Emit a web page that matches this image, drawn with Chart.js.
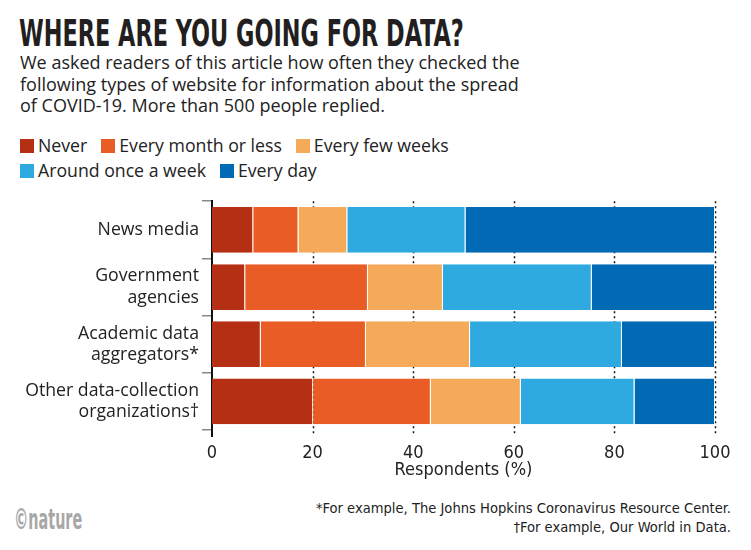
<!DOCTYPE html>
<html>
<head>
<meta charset="utf-8">
<script src="https://cdn.jsdelivr.net/npm/chart.js@4/dist/chart.umd.min.js"></script>
<style>
  body { margin: 0; width: 751px; height: 550px; background: #fff; position: relative; overflow: hidden; font-family: "Open Sans", sans-serif; color: #222; }
  #title { position: absolute; left: 19px; top: 11px; font-family: "DejaVu Sans Condensed", sans-serif; font-weight: bold; font-size: 38px; color: #231f20; transform: scaleX(0.655); transform-origin: left top; white-space: nowrap; }
  #sub { position: absolute; left: 20px; top: 52px; font-size: 18px; line-height: 21.5px; }
  #legend { position: absolute; left: 20px; top: 133px; font-size: 17.7px; line-height: 25px; width: 540px; }
  .item { display: inline-block; margin-right: 14px; }
  .sw { display: inline-block; width: 14px; height: 14px; margin-right: 4px; vertical-align: -1px; }
  #wrap { position: absolute; left: 0; top: 177px; width: 751px; height: 304px; }
  #notes { position: absolute; right: 20px; top: 498px; text-align: right; font-family: "DejaVu Sans Condensed", sans-serif; font-size: 14.6px; line-height: 19px; }
  #logo { position: absolute; left: 14px; top: 503px; font-family: "DejaVu Sans Condensed", sans-serif; font-weight: bold; font-size: 28px; color: #a7a7a7; transform: scaleX(0.57); transform-origin: left top; }
</style>
</head>
<body>
<div id="title">WHERE ARE YOU GOING FOR DATA?</div>
<div id="sub">We asked readers of this article how often they checked the<br>following types of website for information about the spread<br>of COVID-19. More than 500 people replied.</div>
<div id="legend"></div>
<div id="wrap"><canvas id="chart"></canvas></div>
<div id="notes">*For example, The Johns Hopkins Coronavirus Resource Center.<br>†For example, Our World in Data.</div>
<div id="logo">©nature</div>
<script>
const categories = [
  ["News media"],
  ["Government", "agencies"],
  ["Academic data", "aggregators*"],
  ["Other data-collection", "organizations†"]
]
const seriesNames = ["Never", "Every month or less", "Every few weeks", "Around once a week", "Every day"]
const seriesColors = ["#b52f15", "#e95c25", "#f5aa5a", "#2eaae1", "#006bb4"]
const never = [8.2, 6.6, 9.7, 20.1]
const monthly = [9.0, 24.4, 20.9, 23.4]
const fewWeeks = [9.7, 14.9, 20.7, 17.9]
const weekly = [23.5, 29.6, 30.2, 22.6]
const daily = [49.6, 24.5, 18.5, 16.0]
const xTicks = [0, 20, 40, 60, 80, 100]

const values = [never, monthly, fewWeeks, weekly, daily]

// legend in two rows, like the original
let leg = document.getElementById("legend")
seriesNames.forEach((name, i) => {
  if (i == 3) leg.appendChild(document.createElement("br"))
  let span = document.createElement("span")
  span.className = "item"
  span.innerHTML = '<span class="sw" style="background:' + seriesColors[i] + '"></span>' + name
  leg.appendChild(span)
})

const condensed = '"DejaVu Sans Condensed", sans-serif'

new Chart(document.getElementById("chart"), {
  type: 'bar',
  data: {
    labels: categories,
    datasets: seriesNames.map((name, i) => ({
      label: name,
      data: values[i],
      backgroundColor: seriesColors[i],
      borderColor: 'rgba(255,255,255,0.7)',
      borderWidth: { left: 0, right: 1, top: 0, bottom: 0 },
      borderSkipped: false,
      barPercentage: 0.8,
      categoryPercentage: 1
    }))
  },
  options: {
    indexAxis: 'y',
    responsive: true,
    maintainAspectRatio: false,
    animation: false,
    layout: { padding: { top: 10, right: 36, bottom: 0, left: 0 } },
    plugins: { legend: { display: false }, tooltip: { enabled: false } },
    scales: {
      x: {
        stacked: true,
        min: 0,
        max: 100,
        afterBuildTicks: s => { s.ticks = xTicks.map(v => ({ value: v })) },
        afterFit: s => { s.height = 51 },
        border: { display: false },
        grid: { display: false },
        ticks: { color: '#222', font: { family: condensed, size: 18 }, padding: 5, maxRotation: 0 },
        title: { display: true, text: 'Respondents (%)', color: '#222', font: { family: condensed, size: 18 }, padding: 0 }
      },
      y: {
        stacked: true,
        afterFit: s => { s.width = 212 },
        border: { display: true, color: '#111', width: 2 },
        grid: { drawOnChartArea: false, color: '#888', tickLength: 10, lineWidth: 1.5 },
        ticks: { color: '#222', font: { family: '"Open Sans", sans-serif', size: 17.7 }, padding: 3 }
      }
    }
  },
  plugins: [{
    id: 'dotted',
    beforeDatasetsDraw(chart) {
      // dotted grid lines behind the bars, only the gaps show
      const ctx = chart.ctx, x = chart.scales.x, a = chart.chartArea
      ctx.save()
      ctx.strokeStyle = '#111'
      ctx.lineWidth = 1.5
      ctx.setLineDash([2, 3])
      xTicks.forEach(v => {
        if (v == 0) return
        let px = Math.round(x.getPixelForValue(v)) + 0.5
        ctx.beginPath()
        ctx.moveTo(px, a.top)
        ctx.lineTo(px, a.bottom + 6)
        ctx.stroke()
      })
      // the 0 line reaches a bit below the axis
      let p0 = x.getPixelForValue(0)
      ctx.setLineDash([])
      ctx.lineWidth = 2
      ctx.beginPath()
      ctx.moveTo(p0, a.bottom)
      ctx.lineTo(p0, a.bottom + 7)
      ctx.stroke()
      ctx.restore()
    }
  }]
})
</script>
</body>
</html>
